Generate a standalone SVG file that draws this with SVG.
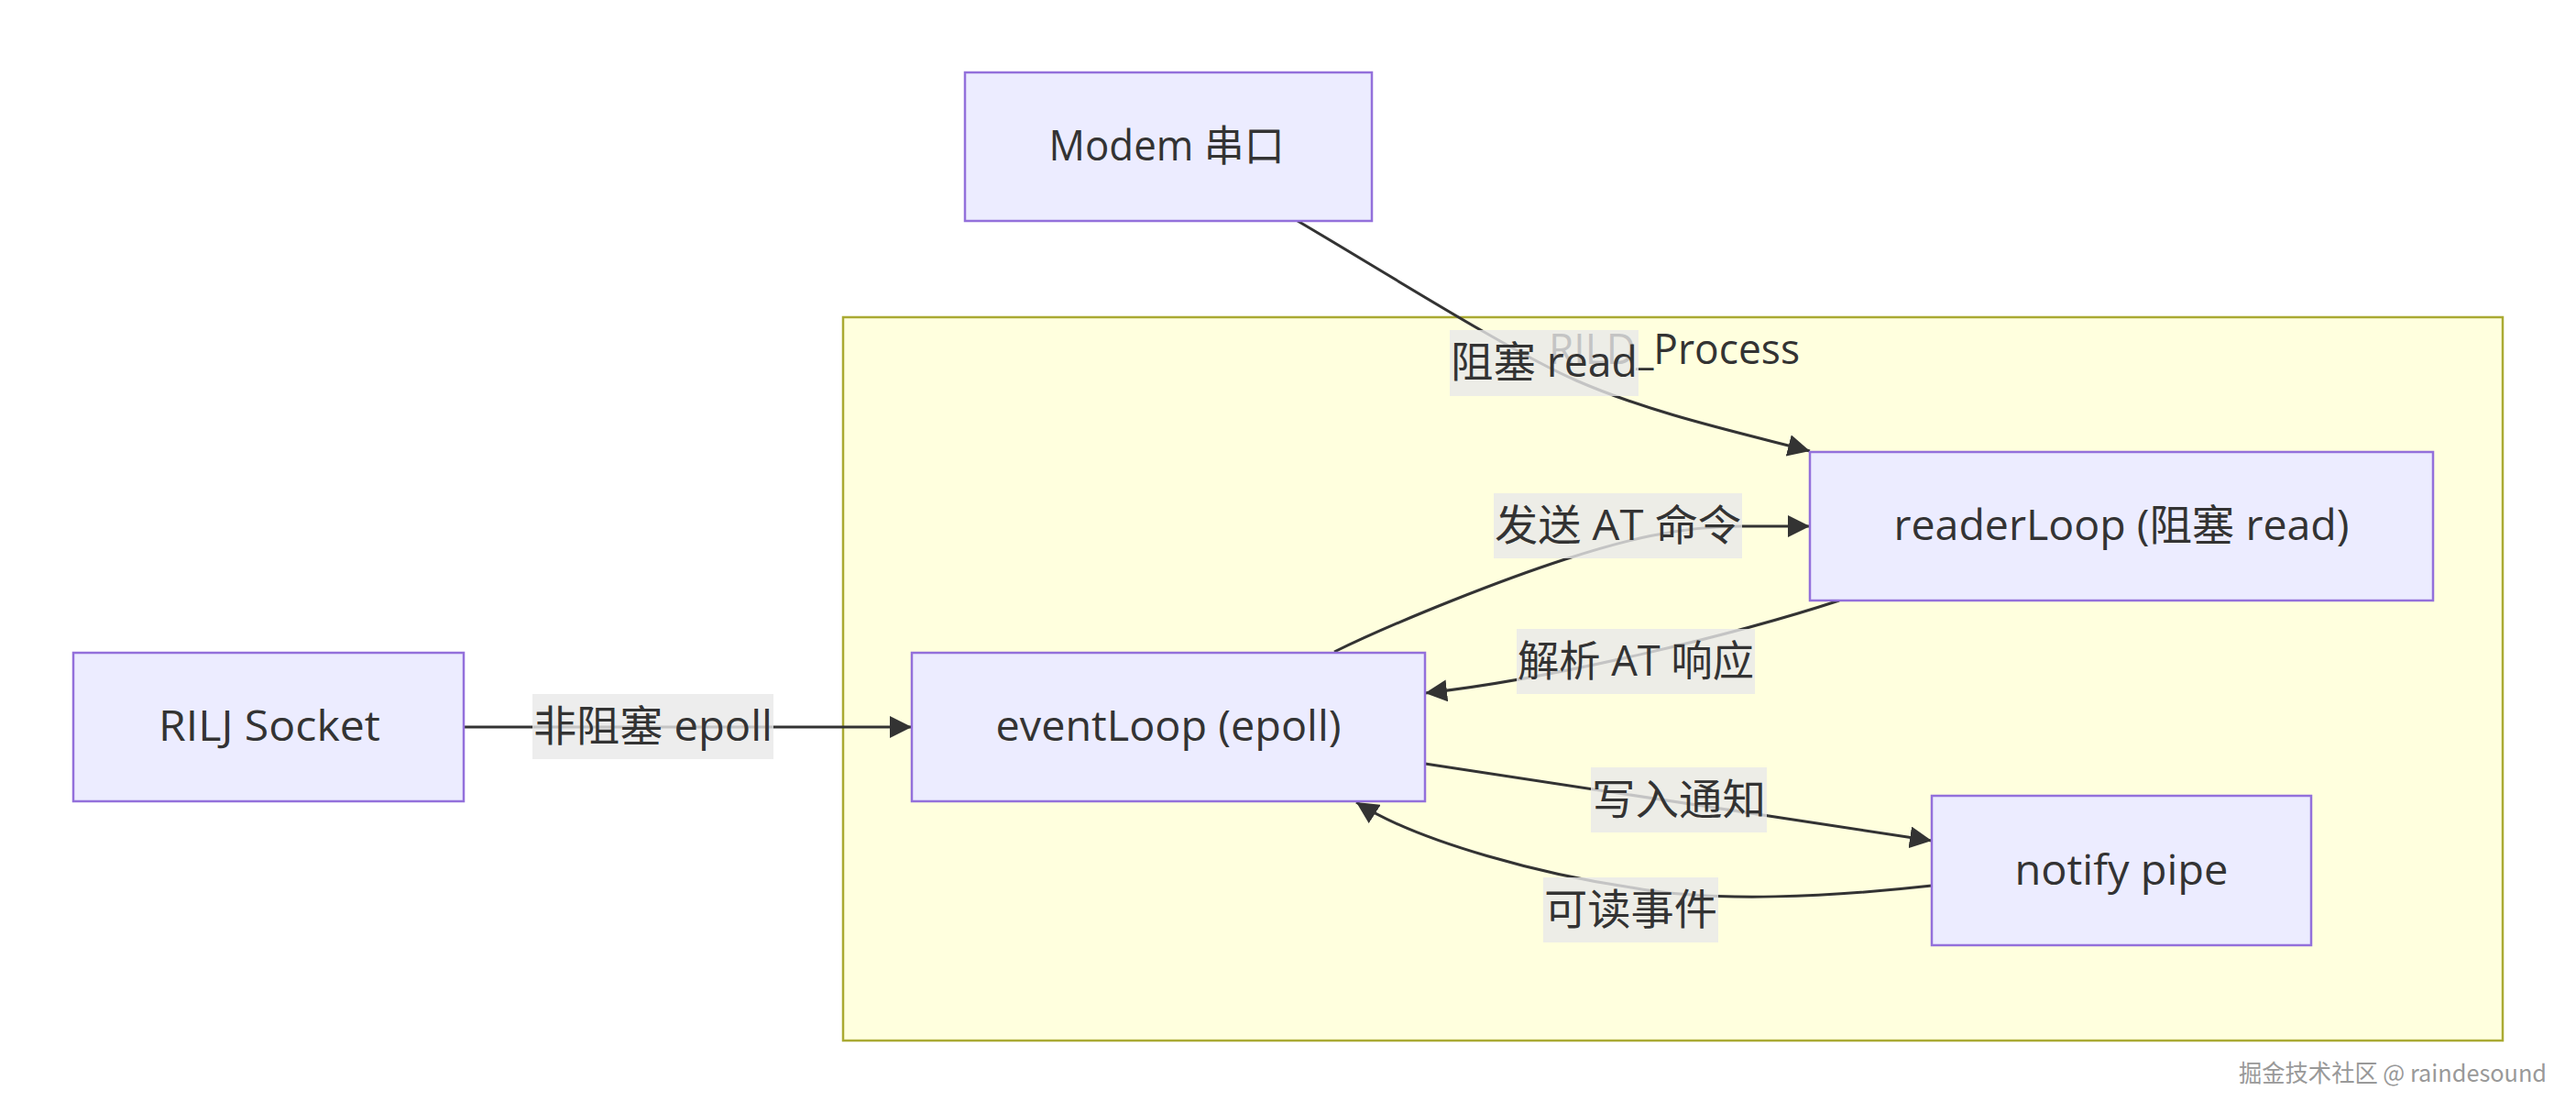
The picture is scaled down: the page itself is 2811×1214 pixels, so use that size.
<svg xmlns="http://www.w3.org/2000/svg" width="2811" height="1214" viewBox="0 0 2811 1214">
<style>
.node rect{fill:#ECECFF;stroke:#9370DB;stroke-width:2.5}
.t{font-family:"Open Sans","Noto Sans CJK SC",sans-serif;font-size:46px;fill:#333;text-anchor:middle}
.edge{fill:none;stroke:#333;stroke-width:3}
.lbg{fill:#e8e8e8;fill-opacity:0.8}
.wm{font-family:"Noto Sans CJK SC","Open Sans",sans-serif;font-size:26px;fill:#999;text-anchor:middle}
</style>
<defs>
<marker id="arr" viewBox="0 0 10 10" refX="10" refY="5" markerUnits="userSpaceOnUse" markerWidth="24" markerHeight="24" orient="auto">
<path d="M0,0 L10,5 L0,10 z" fill="#333"/>
</marker>
</defs>
<rect width="2811" height="1214" fill="#fff"/>
<g id="cluster-RILD_Process">
<rect x="920" y="346" width="1811" height="789" fill="#ffffde" stroke="#aaaa33" stroke-width="2.5"/>
<text class="t" x="1827" y="397" textLength="274" lengthAdjust="spacingAndGlyphs">RILD_Process</text>
</g>
<g id="edges">
<path class="edge" d="M1416,241 C1500,290 1650,385 1720,415 C1800,450 1890,470 1975,492" marker-end="url(#arr)"/>
<path class="edge" d="M1456,711 C1530,675 1640,632 1708,610 C1770,590 1830,574 1900,574 L1975,574" marker-end="url(#arr)"/>
<path class="edge" d="M2007,655 C1900,690 1700,740 1555,756" marker-end="url(#arr)"/>
<path class="edge" d="M506,793 L995,793" marker-end="url(#arr)"/>
<path class="edge" d="M1555,833 L2108,917" marker-end="url(#arr)"/>
<path class="edge" d="M2108,966 C2000,978 1870,985 1780,968 C1690,955 1550,920 1480,875" marker-end="url(#arr)"/>
</g>
<g id="edge-labels">
<g id="label-block-read"><rect class="lbg" x="1582" y="360" width="206" height="72"/><text class="t" x="1685" y="411" textLength="204" lengthAdjust="spacingAndGlyphs">阻塞 read</text></g>
<g id="label-send-at"><rect class="lbg" x="1630" y="538" width="271" height="71"/><text class="t" x="1765.5" y="589" textLength="269" lengthAdjust="spacingAndGlyphs">发送 AT 命令</text></g>
<g id="label-parse-at"><rect class="lbg" x="1655" y="686" width="260" height="71"/><text class="t" x="1785" y="737" textLength="258" lengthAdjust="spacingAndGlyphs">解析 AT 响应</text></g>
<g id="label-epoll"><rect class="lbg" x="581" y="757" width="263" height="71"/><text class="t" x="712.5" y="808" textLength="261" lengthAdjust="spacingAndGlyphs">非阻塞 epoll</text></g>
<g id="label-write"><rect class="lbg" x="1736" y="837" width="192" height="71"/><text class="t" x="1832" y="888" textLength="190" lengthAdjust="spacingAndGlyphs">写入通知</text></g>
<g id="label-readable"><rect class="lbg" x="1684" y="957" width="191" height="71"/><text class="t" x="1779.5" y="1008" textLength="189" lengthAdjust="spacingAndGlyphs">可读事件</text></g>
</g>
<g id="node-modem" class="node"><rect x="1053" y="79" width="444" height="162"/><text class="t" x="1273" y="175" textLength="257" lengthAdjust="spacingAndGlyphs">Modem 串口</text></g>
<g id="node-rilj" class="node"><rect x="80" y="712" width="426" height="162"/><text class="t" x="294" y="808" textLength="242" lengthAdjust="spacingAndGlyphs">RILJ Socket</text></g>
<g id="node-eventloop" class="node"><rect x="995" y="712" width="560" height="162"/><text class="t" x="1275" y="808" textLength="377" lengthAdjust="spacingAndGlyphs">eventLoop (epoll)</text></g>
<g id="node-readerloop" class="node"><rect x="1975" y="493" width="680" height="162"/><text class="t" x="2315" y="589" textLength="497" lengthAdjust="spacingAndGlyphs">readerLoop (阻塞 read)</text></g>
<g id="node-notify" class="node"><rect x="2108" y="868" width="414" height="163"/><text class="t" x="2315" y="965" textLength="233" lengthAdjust="spacingAndGlyphs">notify pipe</text></g>
<text class="wm" x="2611" y="1180" textLength="336" lengthAdjust="spacingAndGlyphs">掘金技术社区 @ raindesound</text>
</svg>
